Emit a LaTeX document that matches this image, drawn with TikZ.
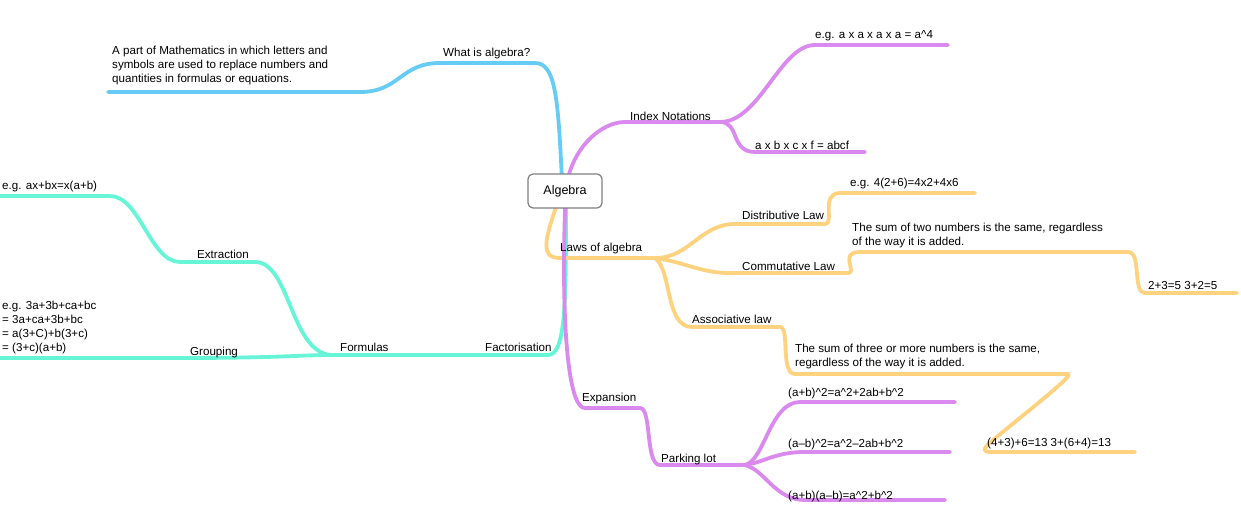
\documentclass[tikz,border=0pt]{standalone}
\usepackage{fontspec}
\setmainfont{Liberation Sans}
\newcommand\crt{\textasciicircum{}}
\definecolor{cblue}{HTML}{66CCF5}
\definecolor{cpurp}{HTML}{DA8AEE}
\definecolor{corng}{HTML}{FFD27F}
\definecolor{cteal}{HTML}{66F5D6}
\begin{document}
\begin{tikzpicture}[x=1pt,y=-1pt,
  br/.style={line width=3.8pt,line cap=round,line join=round},
  lb/.style={anchor=west,inner sep=0pt,font=\fontsize{11.6}{14}\selectfont},
  blk/.style={anchor=north west,inner sep=0pt,align=left,font=\fontsize{11.6}{14}\selectfont}]
\useasboundingbox (0,0) rectangle (1241,521);
% blue
\draw[br,cblue] (562,180) .. controls (558,100) and (556,63) .. (535,63) -- (440,63) .. controls (400,63) and (400,92) .. (360,92) -- (108,92);
% teal
\draw[br,cteal] (566,205) .. controls (566,300) and (566,355) .. (548,355) -- (330,355) .. controls (290,350) and (290,262) .. (255,262) -- (180,262) .. controls (150,262) and (140,196) .. (110,196) -- (0,196);
\draw[br,cteal] (330,355) .. controls (300,355) and (280,358) .. (180,358) -- (0,358);
% orange
\draw[br,corng] (556,207) .. controls (545,240) and (540,258) .. (560,258) -- (655,258);
\draw[br,corng] (655,258) .. controls (690,258) and (700,224) .. (735,224) -- (825,224) .. controls (835,224) and (820,193) .. (840,193) -- (975,193);
\draw[br,corng] (655,258) .. controls (685,262) and (700,273) .. (730,273) -- (848,273) .. controls (858,273) and (838,252) .. (860,252) -- (1128,252) .. controls (1142,252) and (1132,293) .. (1145,293) -- (1237,293);
\draw[br,corng] (655,258) .. controls (672,270) and (665,327) .. (692,327) -- (780,327) .. controls (790,327) and (780,374) .. (795,374) -- (1068,374) .. controls (1078,374) and (990,440) .. (985,448) .. controls (984,451) and (986,452) .. (990,452) -- (1135,452);
% purple
\draw[br,cpurp] (720,122) .. controls (760,122) and (780,45) .. (815,45) -- (948,45);
\draw[br,cpurp] (720,122) .. controls (740,122) and (730,152) .. (755,152) -- (865,152);
\draw[br,cpurp] (720,122) -- (625,122) .. controls (600,122) and (570,150) .. (566,190) .. controls (562,260) and (562,408) .. (585,408) -- (640,408) .. controls (652,408) and (645,465) .. (660,465) -- (745,465);
\draw[br,cpurp] (745,465) .. controls (765,460) and (770,402) .. (800,402) -- (955,402);
\draw[br,cpurp] (745,465) .. controls (765,462) and (775,452) .. (805,452) -- (950,452);
\draw[br,cpurp] (745,465) .. controls (765,470) and (775,500) .. (805,500) -- (945,500);
% center
\node[draw=gray,line width=1.2pt,rounded corners=5pt,fill=white,minimum width=74pt,minimum height=34pt,font=\fontsize{12.5}{14}\selectfont] (alg) at (565,191) {Algebra};
% labels
\node[lb] (w) at (443,54) {What is algebra?};
\node[blk] (wd) at (112,46) {A part of Mathematics in which letters and\\symbols are used to replace numbers and\\quantities in formulas or equations.};
\node[lb] (idx) at (630,116) {Index Notations};
\node[lb] (i1) at (815,36) {e.g. a x a x a x a = a\crt4};
\node[lb] (i2) at (755,145) {a x b x c x f = abcf};
\node[lb] (law) at (560,249) {Laws of algebra};
\node[lb] (dl) at (742,215) {Distributive Law};
\node[lb] (d1) at (850,184) {e.g. 4(2+6)=4x2+4x6};
\node[blk] (cd) at (852,223) {The sum of two numbers is the same, regardless\\of the way it is added.};
\node[lb] (cl) at (742,266) {Commutative Law};
\node[lb] (c1) at (1148,286) {2+3=5 3+2=5};
\node[lb] (al) at (692,319) {Associative law};
\node[blk] (ad) at (795,344) {The sum of three or more numbers is the same,\\regardless of the way it is added.};
\node[lb] (a1) at (987,443) {(4+3)+6=13 3+(6+4)=13};
\node[lb] (ex) at (582,398) {Expansion};
\node[lb] (pl) at (661,459) {Parking lot};
\node[lb] (p1) at (788,393) {(a+b)\crt2=a\crt2+2ab+b\crt2};
\node[lb] (p2) at (788,444) {(a–b)\crt2=a\crt2–2ab+b\crt2};
\node[lb] (p3) at (788,496) {(a+b)(a–b)=a\crt2+b\crt2};
\node[lb] (fa) at (485,347) {Factorisation};
\node[lb] (fo) at (340,347) {Formulas};
\node[lb] (et) at (197,254) {Extraction};
\node[lb] (e1) at (2,187) {e.g. ax+bx=x(a+b)};
\node[lb] (gr) at (190,352) {Grouping};
\node[blk] (g1) at (2,301) {e.g. 3a+3b+ca+bc\\= 3a+ca+3b+bc\\= a(3+C)+b(3+c)\\= (3+c)(a+b)};
\end{tikzpicture}
\end{document}
